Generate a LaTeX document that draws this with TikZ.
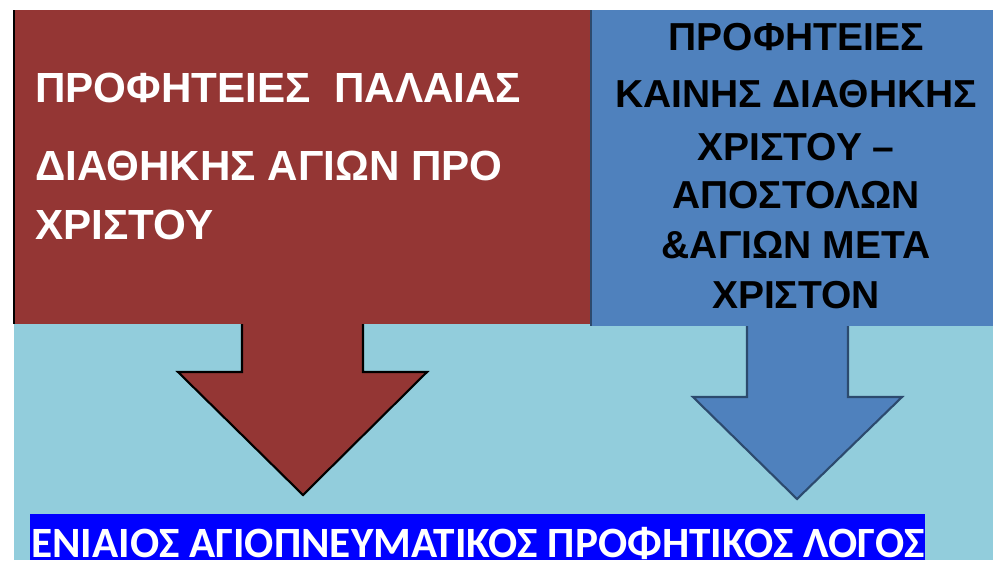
\documentclass[tikz,border=0pt]{standalone}
\usepackage{fontspec}
\setmainfont{Liberation Sans}
\newfontfamily\carlito{Carlito}
\definecolor{oldred}{HTML}{943634}
\definecolor{newblue}{HTML}{4F81BD}
\definecolor{sky}{HTML}{92CDDC}
\definecolor{newedge}{HTML}{2C4A6E}
\begin{document}
\begin{tikzpicture}
  [x=0.02cm,y=-0.02cm,
   oldline/.style={anchor=base west,inner sep=0,text=white,font=\bfseries\fontsize{24}{28}\selectfont},
   newline/.style={anchor=base,inner sep=0,font=\bfseries\fontsize{22.2}{26}\selectfont}]
  \useasboundingbox (0,0) rectangle (1003,576);
  \fill[sky] (14,10) rectangle (993,560);
  \fill[oldred] (14,10) rectangle (591,324);
  \fill[newblue] (591,10) rectangle (993,326);
  \draw[black,line width=1pt] (14,10) -- (14,324);
  \draw[newedge,line width=1.5pt] (591,10) -- (591,326);

  % arrows
  \fill[oldred] (242,323) -- (242,372) -- (178,372) -- (303,495) -- (427,372) -- (363,372) -- (363,323) -- cycle;
  \draw[line width=1.2pt] (242,324) -- (242,372) -- (178,372) -- (303,495) -- (427,372) -- (363,372) -- (363,324);
  \fill[newblue] (747,325) -- (747,397) -- (693,397) -- (797,499) -- (902,397) -- (848,397) -- (848,325) -- cycle;
  \draw[newedge,line width=1.2pt] (747,326) -- (747,397) -- (693,397) -- (797,499) -- (902,397) -- (848,397) -- (848,326);

  \node[oldline] (o1) at (35,102) {ΠΡΟΦΗΤΕΙΕΣ\ \ ΠΑΛΑΙΑΣ};
  \node[oldline] (o2) at (35,180) {ΔΙΑΘΗΚΗΣ ΑΓΙΩΝ ΠΡΟ};
  \node[oldline] (o3) at (35,239) {ΧΡΙΣΤΟΥ};

  \foreach \i/\y/\txt in {1/50/ΠΡΟΦΗΤΕΙΕΣ,2/107/ΚΑΙΝΗΣ ΔΙΑΘΗΚΗΣ,3/160/ΧΡΙΣΤΟΥ –,4/208/ΑΠΟΣΤΟΛΩΝ,5/258/\&ΑΓΙΩΝ ΜΕΤΑ,6/308/ΧΡΙΣΤΟΝ}
    \node[newline] (n\i) at (796,\y) {\txt};

  \fill[blue] (30,514) rectangle (925,560);
  \node[anchor=base west,inner sep=0,text=white,font=\carlito\bfseries\fontsize{24.6}{30}\selectfont] (logos) at (31,557) {ΕΝΙΑΙΟΣ ΑΓΙΟΠΝΕΥΜΑΤΙΚΟΣ ΠΡΟΦΗΤΙΚΟΣ ΛΟΓΟΣ};
\end{tikzpicture}
\end{document}
